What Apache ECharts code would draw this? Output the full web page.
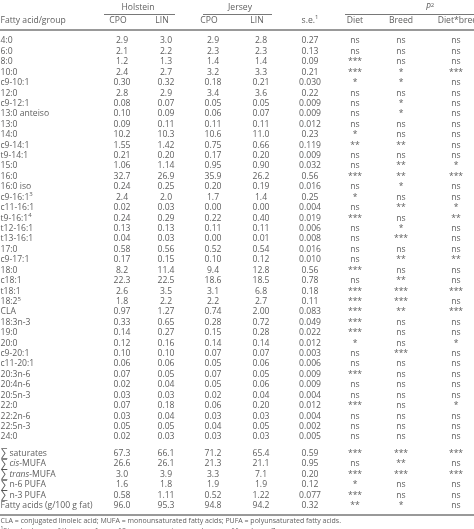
<!DOCTYPE html><html><head><meta charset="utf-8">
<script src="https://cdn.jsdelivr.net/npm/echarts@6/dist/echarts.min.js"></script>
<style>html,body{margin:0;background:#fff}#c{width:474px;height:529px}</style></head><body><div id="c"></div>
<script>
const rowLabels=["4:0","6:0","8:0","10:0","c9-10:1","12:0","c9-12:1","13:0 anteiso","13:0","14:0","c9-14:1","t9-14:1","15:0","16:0","16:0 iso","c9-16:1{s|3}","c11-16:1","t9-16:1{s|4}","t12-16:1","t13-16:1","17:0","c9-17:1","18:0","c18:1","t18:1","18:2{s|5}","CLA","18:3n-3","19:0","20:0","c9-20:1","c11-20:1","20:3n-6","20:4n-6","20:5n-3","22:0","22:2n-6","22:5n-3","24:0"];
const sumLabels=["{g|∑}saturates","{g|∑}{i|cis}-MUFA","{g|∑}{i|trans}-MUFA","{g|∑}n-6 PUFA","{g|∑}n-3 PUFA","Fatty acids (g/100 g fat)"];
const holsteinCPO=["2.9","2.1","1.2","2.4","0.30","2.8","0.08","0.10","0.09","10.2","1.55","0.21","1.06","32.7","0.24","2.4","0.02","0.24","0.13","0.04","0.58","0.17","8.2","22.3","2.6","1.8","0.97","0.33","0.14","0.12","0.10","0.06","0.07","0.02","0.03","0.07","0.03","0.05","0.02","67.3","26.6","3.0","1.6","0.58","96.0"];
const holsteinLIN=["3.0","2.2","1.3","2.7","0.32","2.9","0.07","0.09","0.11","10.3","1.42","0.20","1.14","26.9","0.25","2.0","0.03","0.29","0.13","0.03","0.56","0.15","11.4","22.5","3.5","2.2","1.27","0.65","0.27","0.16","0.10","0.06","0.05","0.04","0.03","0.18","0.04","0.05","0.03","66.1","26.1","3.9","1.8","1.11","95.3"];
const jerseyCPO=["2.9","2.3","1.4","3.2","0.18","3.4","0.05","0.06","0.11","10.6","0.75","0.17","0.95","35.9","0.20","1.7","0.00","0.22","0.11","0.00","0.52","0.10","9.4","18.6","3.1","2.2","0.74","0.28","0.15","0.14","0.07","0.05","0.07","0.05","0.02","0.06","0.03","0.04","0.03","71.2","21.3","3.3","1.9","0.52","94.8"];
const jerseyLIN=["2.8","2.3","1.4","3.3","0.21","3.6","0.05","0.07","0.11","11.0","0.66","0.20","0.90","26.2","0.19","1.4","0.00","0.40","0.11","0.01","0.54","0.12","12.8","18.5","6.8","2.7","2.00","0.72","0.28","0.14","0.07","0.06","0.05","0.06","0.04","0.20","0.03","0.05","0.03","65.4","21.1","7.1","1.9","1.22","94.2"];
const se=["0.27","0.13","0.09","0.21","0.030","0.22","0.009","0.009","0.012","0.23","0.119","0.009","0.032","0.56","0.016","0.25","0.004","0.019","0.006","0.008","0.016","0.010","0.56","0.78","0.18","0.11","0.083","0.049","0.022","0.012","0.003","0.006","0.009","0.009","0.004","0.012","0.004","0.002","0.005","0.59","0.95","0.20","0.12","0.077","0.32"];
const pDiet=["ns","ns","***","***","*","ns","ns","ns","ns","*","**","ns","ns","***","ns","*","ns","***","ns","ns","ns","ns","***","ns","***","***","***","***","***","*","ns","ns","***","ns","ns","***","ns","ns","ns","***","ns","***","*","***","**"];
const pBreed=["ns","ns","ns","*","*","ns","*","*","ns","ns","**","ns","**","**","*","ns","**","ns","*","***","ns","**","ns","**","***","***","**","ns","ns","ns","***","ns","ns","ns","ns","ns","ns","ns","ns","***","**","***","ns","ns","*"];
const pInter=["ns","ns","ns","***","ns","ns","ns","ns","ns","ns","ns","ns","*","***","ns","ns","*","**","ns","ns","ns","**","ns","ns","***","ns","***","ns","ns","*","ns","ns","ns","ns","ns","*","ns","ns","ns","***","ns","***","ns","ns","ns"];
const headers=["CPO","LIN","CPO","LIN","s.e.{s|1}","Diet","Breed","Diet*breed"];
const footnotes=["CLA = conjugated linoleic acid; MUFA = monounsaturated fatty acids; PUFA = polyunsaturated fatty acids.","{s|1}Standard error of the mean for n = 18 measurements; error degrees of freedom = 7."];

const FONT='"Open Sans", "Noto Sans", sans-serif', COL='#333';
const colX=[122,166,213,261,310,355,401,456];
const rowPos=[...rowLabels.map((_,i)=>i), ...sumLabels.map((_,j)=>39.55+j*1.01)];
const allLabels=[...rowLabels,...sumLabels];
const rich={s:{fontSize:6,verticalAlign:'top',padding:[0,0,5,0],fontFamily:FONT,color:COL},i:{fontStyle:'italic',fontSize:8.6,fontFamily:FONT,color:COL},g:{fontSize:11,padding:[0,2,0,0],fontFamily:FONT,color:COL}};
function textSeries(points,align){
  return {type:'scatter',symbolSize:0.1,silent:true,clip:false,data:points,
    label:{show:true,position:'inside',align:align||'center',formatter:p=>p.data[2],fontSize:8.6,fontFamily:FONT,color:COL,rich:rich}};
}
const cols=[holsteinCPO,holsteinLIN,jerseyCPO,jerseyLIN,se,pDiet,pBreed,pInter];
const series=[];
series.push(textSeries(allLabels.map((t,i)=>[0.5,rowPos[i],t]),'left'));
cols.forEach((c,k)=>series.push(textSeries(c.map((t,i)=>[colX[k],rowPos[i],t]))));
series.push(textSeries(headers.map((t,k)=>[k<4?colX[k]-4:colX[k]+(k==7?4:0),-2.0,t])));
series.push(textSeries([[0.5,-2.0,'Fatty acid/group']],'left'));
series.push(textSeries([[138,-3.2,'Holstein'],[240,-3.2,'Jersey'],[430,-3.2,'{i|P}{s|2}']]));
const fn=textSeries(footnotes.map((t,j)=>[0.5,46.05+j*0.95,t]),'left');
fn.label.fontSize=7; fn.label.rich={s:{fontSize:5,verticalAlign:'top',padding:[0,0,4,0],fontFamily:FONT,color:COL}};
series.push(fn);
function seg(x1,x2,y,w,c){return [{coord:[x1,y],lineStyle:{width:w,color:c}},{coord:[x2,y]}];}
series.push({type:'line',data:[],markLine:{silent:true,symbol:'none',label:{show:false},animation:false,
  lineStyle:{type:'solid',color:'#555',width:0.8},
  data:[seg(104,175,-2.55,0.8,'#555'),seg(203,272,-2.55,0.8,'#555'),seg(345,474,-2.55,0.8,'#555'),
        seg(0,474,-1.05,2,'#999'),seg(0,474,45.45,2,'#999')]}});
const chart=echarts.init(document.getElementById('c'),null,{renderer:'canvas'});
chart.setOption({animation:false,
  grid:{left:0,right:0,top:0,bottom:0},
  xAxis:{type:'value',min:0,max:474,show:false},
  yAxis:{type:'value',inverse:true,min:-3.93,max:46.83,show:false},
  series});
</script></body></html>
